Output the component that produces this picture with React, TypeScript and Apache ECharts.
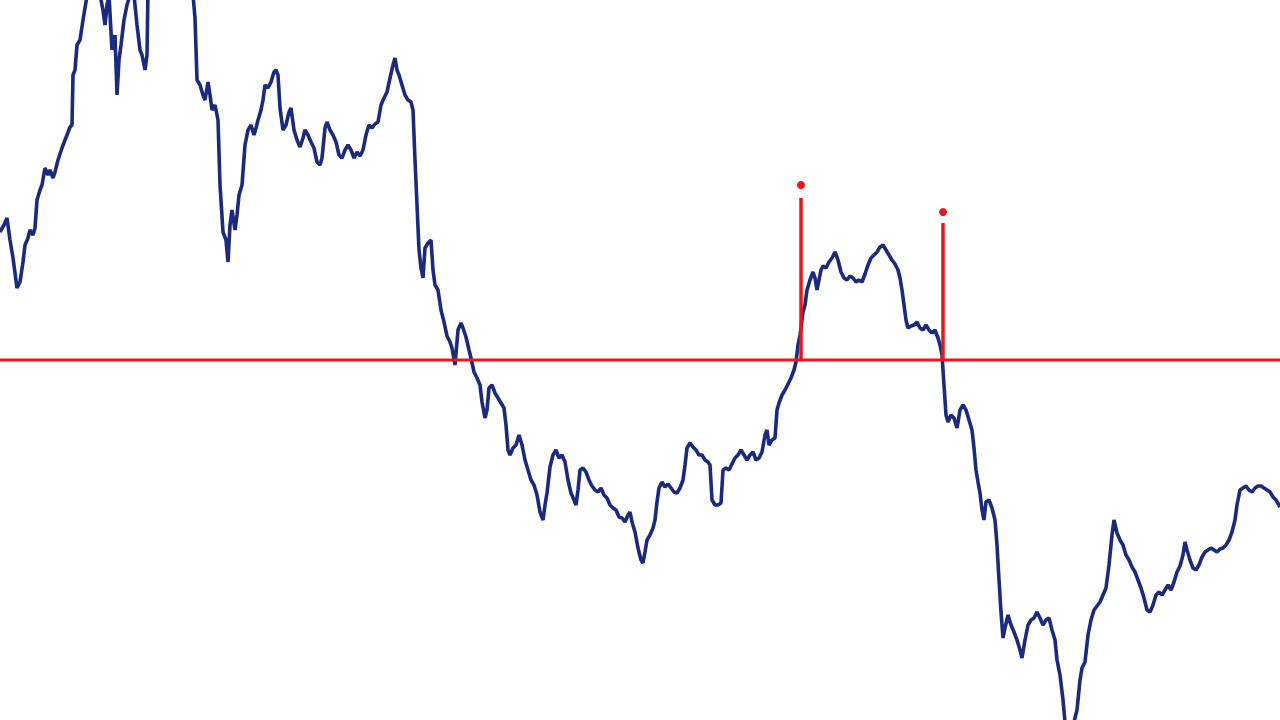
import React, { useEffect, useRef } from "react";
import * as echarts from "echarts";

// Horizontal position of each traced price point (time axis, 0..1280)
const priceX = [
  0, 4, 7, 10, 13, 17, 20, 23, 25, 28, 30, 33, 35, 37, 40, 42, 45, 48, 50, 53, 55, 58, 62, 65, 67, 70, 72, 73, 75, 77, 80, 83, 85, 88, 92, 96, 100, 103, 105, 107, 109, 112, 115, 117, 119, 121, 124, 127, 130, 134, 137, 140, 142, 145, 147, 148, 155, 170, 185, 193, 195, 197, 200, 203, 205, 208, 210, 212, 215, 218, 220, 223, 226, 228, 230, 232, 235, 237, 239, 242, 245, 248, 251, 254, 256, 258, 261, 263, 265, 268, 271, 274, 276, 278, 280, 283, 286, 289, 291, 294, 297, 300, 303, 305, 308, 311, 314, 317, 320, 322, 325, 327, 330, 333, 336, 339, 342, 345, 348, 351, 354, 357, 360, 363, 366, 369, 372, 375, 378, 381, 384, 387, 390, 393, 395, 397, 399, 402, 405, 408, 411, 413, 415, 417, 419, 421, 423, 425, 428, 431, 433, 435, 438, 441, 444, 447, 450, 452, 455, 458, 461, 463, 466, 469, 471, 474, 477, 480, 482, 485, 487, 489, 492, 495, 498, 501, 504, 506, 508, 510, 513, 516, 519, 522, 525, 528, 531, 534, 537, 540, 543, 545, 547, 550, 553, 556, 559, 562, 565, 568, 571, 574, 576, 578, 580, 583, 586, 589, 592, 595, 598, 601, 604, 607, 610, 613, 616, 619, 622, 625, 628, 630, 632, 635, 638, 641, 643, 645, 647, 650, 653, 655, 657, 659, 662, 665, 668, 671, 674, 677, 680, 683, 685, 687, 690, 693, 696, 699, 702, 705, 708, 710, 712, 715, 718, 721, 723, 726, 729, 732, 735, 738, 741, 744, 747, 750, 753, 756, 759, 762, 765, 767, 769, 772, 775, 777, 779, 782, 785, 788, 791, 794, 796, 798, 800, 803, 805, 807, 810, 813, 815, 817, 819, 821, 823, 826, 829, 832, 835, 838, 841, 844, 847, 850, 853, 856, 859, 862, 865, 868, 871, 874, 877, 880, 883, 886, 889, 892, 895, 898, 900, 902, 904, 906, 908, 911, 914, 917, 920, 923, 926, 929, 932, 935, 938, 940, 942, 944, 946, 948, 951, 954, 957, 960, 963, 966, 969, 972, 974, 976, 978, 980, 982, 984, 986, 989, 992, 995, 997, 999, 1001, 1003, 1005, 1008, 1011, 1014, 1017, 1020, 1022, 1025, 1028, 1031, 1034, 1037, 1040, 1043, 1046, 1049, 1052, 1055, 1057, 1060, 1063, 1065, 1068, 1071, 1074, 1077, 1080, 1082, 1085, 1088, 1091, 1094, 1097, 1100, 1103, 1106, 1109, 1112, 1114, 1117, 1120, 1123, 1126, 1129, 1132, 1135, 1138, 1141, 1144, 1147, 1150, 1153, 1156, 1159, 1162, 1165, 1168, 1171, 1174, 1177, 1180, 1183, 1185, 1187, 1190, 1193, 1196, 1199, 1202, 1205, 1208, 1211, 1214, 1217, 1220, 1223, 1226, 1229, 1232, 1235, 1237, 1240, 1243, 1246, 1249, 1252, 1255, 1258, 1261, 1264, 1267, 1270, 1273, 1276, 1280
];

// Depth of the price below the chart top (inverted price scale)
const priceDepth = [
  232, 225, 218, 240, 258, 288, 282, 262, 245, 238, 230, 235, 228, 200, 190, 185, 168, 175, 170, 178, 172, 160, 148, 140, 135, 127, 125, 75, 70, 45, 40, 20, 8, -10, -15, -10, -5, 10, 25, 5, -5, 50, 35, 95, 60, 45, 20, 5, -5, -5, 25, 50, 55, 70, 55, -10, -30, -30, -25, -5, 18, 80, 85, 95, 100, 82, 95, 110, 105, 120, 185, 232, 240, 262, 225, 210, 230, 215, 195, 185, 145, 130, 125, 135, 128, 120, 110, 100, 85, 88, 82, 72, 70, 75, 108, 130, 125, 112, 108, 130, 140, 147, 138, 130, 135, 142, 148, 162, 165, 158, 128, 122, 130, 135, 142, 155, 158, 150, 145, 150, 158, 152, 156, 150, 135, 125, 128, 124, 122, 105, 98, 92, 78, 65, 58, 70, 75, 85, 95, 100, 102, 110, 160, 205, 250, 268, 278, 248, 243, 240, 270, 285, 290, 310, 322, 336, 342, 348, 365, 330, 323, 328, 337, 350, 358, 372, 378, 385, 402, 418, 410, 388, 385, 393, 398, 403, 408, 425, 450, 455, 448, 445, 435, 445, 460, 470, 480, 485, 495, 512, 520, 505, 493, 467, 455, 450, 458, 455, 462, 480, 493, 500, 505, 490, 470, 468, 472, 480, 486, 490, 492, 488, 495, 498, 505, 508, 510, 517, 518, 522, 515, 512, 522, 532, 548, 560, 563, 552, 540, 535, 528, 520, 502, 488, 482, 487, 484, 488, 492, 493, 488, 480, 465, 448, 443, 447, 450, 455, 455, 460, 462, 465, 500, 505, 505, 503, 470, 468, 470, 464, 458, 455, 450, 455, 460, 455, 452, 460, 458, 452, 435, 430, 445, 440, 438, 410, 403, 395, 390, 384, 378, 370, 362, 345, 335, 312, 305, 290, 280, 272, 278, 290, 280, 270, 266, 268, 262, 258, 252, 260, 272, 278, 280, 276, 278, 282, 280, 282, 274, 265, 258, 255, 252, 247, 245, 250, 255, 260, 264, 270, 278, 290, 305, 320, 328, 326, 325, 322, 328, 330, 325, 330, 333, 330, 338, 345, 355, 385, 415, 422, 415, 418, 428, 410, 405, 410, 420, 430, 448, 470, 482, 493, 510, 520, 502, 500, 508, 520, 545, 580, 612, 638, 628, 615, 625, 632, 640, 650, 658, 640, 625, 620, 618, 612, 618, 625, 620, 618, 630, 640, 660, 675, 700, 722, 735, 735, 722, 710, 680, 668, 662, 635, 620, 610, 606, 602, 595, 588, 565, 535, 520, 533, 540, 545, 555, 560, 567, 572, 580, 588, 598, 610, 612, 605, 595, 592, 595, 590, 585, 590, 582, 572, 566, 555, 542, 550, 560, 568, 570, 565, 557, 552, 550, 548, 550, 552, 549, 548, 545, 540, 532, 520, 505, 490, 488, 486, 490, 492, 488, 486, 486, 488, 490, 492, 497, 500, 507
];

// Support/resistance level and breakout markers
const levelDepth = 360;
const breakoutX = [801, 943];
const breakoutTop = [198, 223];
const breakoutDot = [185, 212];

const NAVY = "#1b2a7c";
const RED = "#e8161e";

export default function App() {
  const ref = useRef<HTMLDivElement>(null);

  useEffect(() => {
    if (!ref.current) return;
    const chart = echarts.init(ref.current, undefined, { renderer: "svg" });
    const priceData = priceX.map((x, i) => [x, priceDepth[i]]);
    const series: any[] = [
      {
        type: "line",
        data: priceData,
        symbol: "none",
        lineStyle: { color: NAVY, width: 3.6, join: "bevel" },
        z: 2,
        clip: true,
      },
      {
        type: "line",
        data: [
          [0, levelDepth],
          [1280, levelDepth],
        ],
        symbol: "none",
        lineStyle: { color: RED, width: 3 },
        z: 5,
      },
    ];
    breakoutX.forEach((x, i) => {
      series.push({
        type: "line",
        data: [
          [x, breakoutTop[i]],
          [x, levelDepth],
        ],
        symbol: "none",
        lineStyle: { color: RED, width: 3.5 },
        z: 5,
      });
    });
    series.push({
      type: "scatter",
      data: breakoutX.map((x, i) => [x, breakoutDot[i]]),
      symbol: "circle",
      symbolSize: 8,
      itemStyle: { color: RED, opacity: 1 },
      z: 6,
    });

    chart.setOption({
      animation: false,
      backgroundColor: "#ffffff",
      grid: { left: 0, right: 0, top: 0, bottom: 0 },
      xAxis: {
        type: "value",
        min: 0,
        max: 1280,
        show: false,
      },
      yAxis: {
        type: "value",
        min: 0,
        max: 720,
        inverse: true,
        show: false,
      },
      series,
    });
    return () => chart.dispose();
  }, []);

  return (
    <div
      ref={ref}
      style={{ position: "fixed", left: 0, top: 0, width: 1280, height: 720 }}
    />
  );
}
